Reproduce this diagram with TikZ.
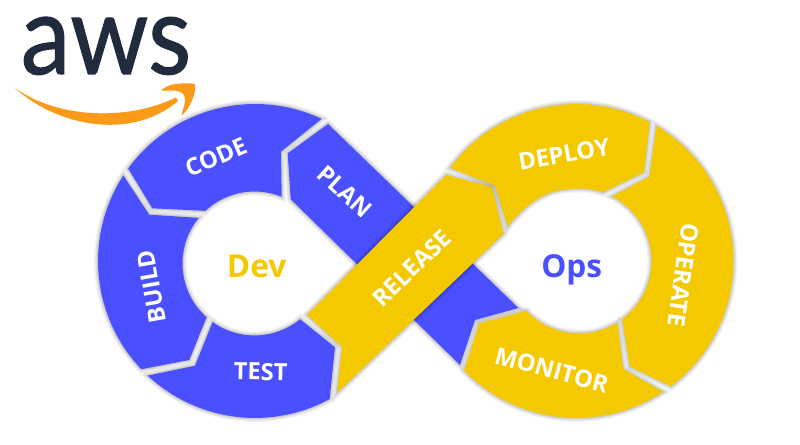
\documentclass[tikz,border=0pt]{standalone}
\usepackage{fontspec}
\setmainfont{Open Sans}
\newfontfamily\logofont[FakeBold=1]{Lato}
\usetikzlibrary{positioning}
\definecolor{devblue}{HTML}{4A50FF}
\definecolor{opsyellow}{HTML}{F4C900}
\definecolor{logoink}{HTML}{202B3D}
\definecolor{logoorange}{HTML}{FB9A18}
\tikzset{
  halo/.style={preaction={draw=black,draw opacity=.05,line width=4.5pt},
    preaction={draw=black,draw opacity=.07,line width=3pt},
    preaction={draw=black,draw opacity=.09,line width=1.4pt}},
  devseg/.style={halo,fill=devblue},
  opsseg/.style={halo,fill=opsyellow},
  seglabel/.style={text=white,font=\bfseries\fontsize{13.5}{13.5}\selectfont,inner sep=0pt},
  hublabel/.style={font=\bfseries\fontsize{18}{18}\selectfont,inner sep=0pt}
}
\begin{document}
\begin{tikzpicture}[x=0.02cm,y=0.02cm]
\useasboundingbox (0,0) rectangle (800,445);
\coordinate (devC) at (255,184);
\coordinate (devI) at (254.5,181.5);
\coordinate (opsC) at (576.5,184);
\coordinate (opsI) at (579,184);
\fill[devseg] (328,321)-- (518.5,137)-- (475,125)-- (460,80)-- (290.7,245.7)-- (287.7,291.7)-- cycle;
\fill[opsseg] (307,130)-- (446,270)-- (492,258)-- (503.5,211)-- (337,52)-- (342,98)-- cycle;
\fill[devseg] ([shift={(143.9:3.14cm)}]devC) arc[start angle=143.9,end angle=64.9,radius=3.14cm]
  -- (281,293.3)-- ([shift={(67.8:1.44cm)}]devI) arc[start angle=67.8,end angle=133,radius=1.44cm]
  -- (152.3,236.7)-- cycle;
\fill[devseg] ([shift={(147:3.14cm)}]devC) arc[start angle=147,end angle=223.6,radius=3.14cm]
  -- (189.3,85)-- ([shift={(228.3:1.44cm)}]devI) arc[start angle=228.3,end angle=140.7,radius=1.44cm]
  -- (149.3,230.3)-- cycle;
\fill[devseg] ([shift={(226.9:3.14cm)}]devC) arc[start angle=226.9,end angle=298.4,radius=3.14cm]
  -- (335,97.7)-- ([shift={(309.3:1.44cm)}]devI) arc[start angle=309.3,end angle=234.4,radius=1.44cm]
  -- (195,79.3)-- cycle;
\fill[opsseg] ([shift={(143.6:3.14cm)}]opsC) arc[start angle=143.6,end angle=62.2,radius=3.14cm]
  -- (644,272.7)-- ([shift={(71:1.45cm)}]opsI) arc[start angle=71,end angle=100,radius=1.45cm]
  .. controls (552,255.5) and (528,245) .. (507.7,218.3)-- (495,259.3)-- cycle;
\fill[opsseg] ([shift={(59.4:3.14cm)}]opsC) arc[start angle=59.4,end angle=-53,radius=3.14cm]
  -- (630,78.3)-- ([shift={(-53.5:1.45cm)}]opsI) arc[start angle=-53.5,end angle=63,radius=1.45cm]
  -- (649.3,268.3)-- cycle;
\fill[opsseg] ([shift={(303.5:3.14cm)}]opsC) arc[start angle=303.5,end angle=224.3,radius=3.14cm]
  -- (479.3,121.7)-- ([shift={(223.5:1.45cm)}]opsI) arc[start angle=223.5,end angle=301.9,radius=1.45cm]
  -- (623.3,76)-- cycle;
\node[seglabel,rotate=23] (code) at (216,288) {CODE};
\node[seglabel,rotate=-42] (plan) at (345,253.3) {PLAN};
\node[seglabel,rotate=100] (build) at (151.7,158.3) {BUILD};
\node[seglabel,rotate=-1] (test) at (260.7,73.3) {TEST};
\node[seglabel,rotate=44] (release) at (411.7,177) {RELEASE};
\node[seglabel,rotate=10] (deploy) at (564,290.7) {DEPLOY};
\node[seglabel,rotate=-98] (operate) at (683.3,170) {OPERATE};
\node[seglabel,rotate=-15] (monitor) at (551.7,75) {MONITOR};
\node[hublabel,text=opsyellow] (dev) at (256.7,179) {Dev};
\node[hublabel,text=devblue] (ops) at (571.7,175.5) {Ops};
\node[anchor=base,inner sep=0pt,xscale=.9,text=logoink,font=\logofont\fontsize{63}{63}\selectfont] (aws) at (106,371) {aws};
\fill[logoorange] (15,357) .. controls (55,320) and (130,303) .. (178,344)-- (176,347.5)
  .. controls (130,325) and (60,325) .. (15,357)-- cycle;
\fill[logoorange] (160.7,354.3) .. controls (165,358) and (169,360) .. (173,360.5)
  .. controls (182,362) and (190,362) .. (195,361)-- (195,355)
  .. controls (194,346) and (188,335) .. (181.7,329.3)
  .. controls (182,335) and (185,339) .. (185,345)
  .. controls (185,351) and (182,353.5) .. (175,354.3)-- cycle;
\end{tikzpicture}
\end{document}
